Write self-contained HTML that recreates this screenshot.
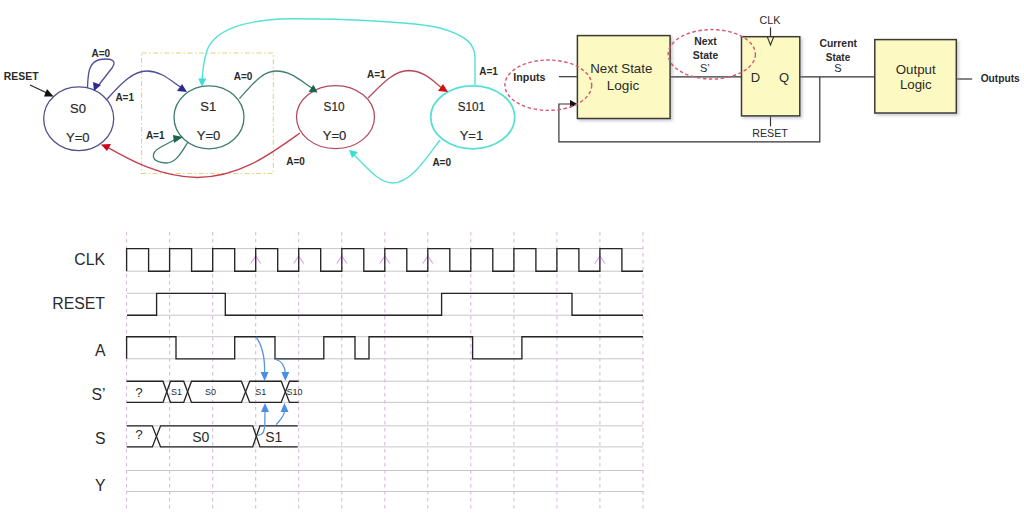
<!DOCTYPE html>
<html><head><meta charset="utf-8">
<style>
html,body{margin:0;padding:0;background:#fff;width:1024px;height:513px;overflow:hidden}
svg{display:block}
text{font-family:"Liberation Sans",sans-serif;fill:#2a2a2a}
.b{font-weight:bold}
</style></head><body>
<svg width="1024" height="513" viewBox="0 0 1024 513">
<rect width="1024" height="513" fill="#fff"/>

<!-- ============ STATE DIAGRAM ============ -->
<!-- dashed yellow box -->
<rect x="141.5" y="53" width="131.8" height="120.5" fill="none" stroke="#e8d27a" stroke-width="1.1" stroke-dasharray="5,2.5,1.5,2.5"/>

<!-- circles -->
<ellipse cx="78.7" cy="118.75" rx="35" ry="31.8" fill="none" stroke="#50508e" stroke-width="1.3"/>
<ellipse cx="209" cy="117.3" rx="35" ry="31.5" fill="none" stroke="#3d7c6e" stroke-width="1.3"/>
<ellipse cx="335.5" cy="117.1" rx="39" ry="31.5" fill="none" stroke="#b04a5a" stroke-width="1.25"/>
<ellipse cx="472.7" cy="117.3" rx="42" ry="31.5" fill="none" stroke="#58e0d4" stroke-width="1.8"/>

<!-- cyan big arc S101 -> S1 -->
<path d="M475,85 V58 C475,45 468,36 440,28 C415,22 340,18.5 290,18.8 C245,19.5 213,30 206.5,52 C204,61 202.5,70 202.3,79" fill="none" stroke="#55e2d6" stroke-width="1.4"/>
<polygon points="198.2,78.6 206.2,78.6 202.1,86.8" fill="#38e0d4"/>

<!-- S0 self loop -->
<path d="M87.5,88 C88,75 88,62 100,59.5 C110,58 118,60 112,68 L98,86" fill="none" stroke="#4e4e94" stroke-width="1.3"/>
<polygon points="94,91 93,82 101,85" fill="#2a2a90"/>

<!-- S0 -> S1 -->
<path d="M106.8,99.4 C120,85 132,71 147,71 C162,71 172,82 182,88" fill="none" stroke="#4e4e94" stroke-width="1.3"/>
<polygon points="187,92 177,91 182,84" fill="#2a2a90"/>

<!-- S1 self loop -->
<path d="M188,142 C181,153 176,163 166,163 C150,162 150,153 161,147 L176,139" fill="none" stroke="#3d7c6e" stroke-width="1.3"/>
<polygon points="183,137 174,143 173,135" fill="#1a6448"/>

<!-- S1 -> S10 -->
<path d="M239.4,98.6 C252,85 262,71 276,71 C292,71 302,82 312,88" fill="none" stroke="#3d7c6e" stroke-width="1.3"/>
<polygon points="317.6,92.6 308.6,91.8 313.4,84.8" fill="#1a6448"/>

<!-- S10 -> S101 -->
<path d="M368,98 C382,84 394,70.5 409,70.5 C425,71 434,82 442,88" fill="none" stroke="#b44a5a" stroke-width="1.3"/>
<polygon points="448,92 438,91 443,84" fill="#d01010"/>

<!-- S10 -> S0 red -->
<path d="M300,133 C272,153 240,177.5 197,177.5 C160,177 130,160 107,147" fill="none" stroke="#c44050" stroke-width="1.35"/>
<polygon points="101,144.5 111,144 107,151" fill="#c80818"/>

<!-- S101 -> S10 cyan -->
<path d="M440,140 C425,160 410,183 393,183 C378,183 365,165 354,155" fill="none" stroke="#55e2d6" stroke-width="1.4"/>
<polygon points="349,150 358,152 352,158" fill="#38e0d4"/>

<!-- RESET arrow -->
<path d="M30,85 L47,93" stroke="#222" stroke-width="1.3"/>
<polygon points="53.6,96.5 44,96.5 47,89" fill="#111"/>

<!-- state text -->
<g font-size="13" text-anchor="middle" stroke="#2a2a2a" stroke-width="0.2">
<text x="78" y="113">S0</text><text x="77.8" y="141.6">Y=0</text>
<text x="208.2" y="110.7">S1</text><text x="208.6" y="139.9">Y=0</text>
<text x="334.1" y="110.8" textLength="21" lengthAdjust="spacingAndGlyphs">S10</text><text x="334.5" y="139.9">Y=0</text>
<text x="471.4" y="110.8" textLength="27.3" lengthAdjust="spacingAndGlyphs">S101</text><text x="471.4" y="139.9">Y=1</text>
</g>
<g font-size="10" class="b" text-anchor="middle">
<text x="21.2" y="80" font-size="10.4">RESET</text>
<text x="100.8" y="56.6">A=0</text>
<text x="124.7" y="101.4">A=1</text>
<text x="243" y="80.4">A=0</text>
<text x="155.2" y="138.9">A=1</text>
<text x="295.6" y="164.6">A=0</text>
<text x="376.3" y="78">A=1</text>
<text x="488.6" y="75">A=1</text>
<text x="441.7" y="166.3">A=0</text>
</g>

<!-- ============ BLOCK DIAGRAM ============ -->
<g stroke="#333" stroke-width="1.2" fill="none">
<path d="M558.9,76.7 H577.4"/>
<path d="M571,104 H558.9 V141.9 H819.8 V76.8"/>
<path d="M670,76.8 H741.5"/>
<path d="M799.8,76.8 H875"/>
<path d="M956.3,79 H972.2"/>
<path d="M770.5,27.4 V36.7"/>
<path d="M770.5,116 V126.3"/>
</g>
<polygon points="577.4,104 570,100 570,108" fill="#111"/>
<!-- shadows -->
<defs><filter id="sh" x="-10%" y="-10%" width="130%" height="130%"><feDropShadow dx="1.8" dy="1.8" stdDeviation="1.4" flood-color="#8888a0" flood-opacity="0.45"/></filter></defs>
<!-- boxes -->
<rect x="577.4" y="35.6" width="92.7" height="82.9" fill="#fcfac2" stroke="#3a3a32" stroke-width="1.5" filter="url(#sh)"/>
<rect x="741.5" y="36.7" width="58.3" height="79.2" fill="#fcfac2" stroke="#3a3a32" stroke-width="1.5" filter="url(#sh)"/>
<rect x="874.8" y="39.6" width="81.5" height="73.4" fill="#fcfac2" stroke="#3a3a32" stroke-width="1.5" filter="url(#sh)"/>
<path d="M767.3,36.7 L770.5,45 L773.7,36.7" fill="none" stroke="#333" stroke-width="1.1"/>

<!-- red dashed ellipses -->
<ellipse cx="548.3" cy="85.2" rx="43.4" ry="25.2" fill="none" stroke="#d85a70" stroke-width="1.45" stroke-dasharray="3.5,2.5"/>
<ellipse cx="711.8" cy="54.3" rx="43.6" ry="24.7" fill="none" stroke="#d85a70" stroke-width="1.45" stroke-dasharray="3.5,2.5"/>

<g text-anchor="middle">
<text x="621.3" y="73.3" font-size="13.3">Next State</text>
<text x="623" y="89.8" font-size="13.3" textLength="32.5" lengthAdjust="spacingAndGlyphs">Logic</text>
<text x="915.7" y="74.5" font-size="13.3" dy="-1">Output</text>
<text x="915.8" y="89" font-size="13.3">Logic</text>
<text x="755.4" y="82.3" font-size="13">D</text>
<text x="784" y="82.3" font-size="13">Q</text>
<text x="770" y="23.8" font-size="10.7">CLK</text>
<text x="770" y="137.3" font-size="10.7">RESET</text>
<text x="529.4" y="81.2" font-size="10.7" class="b">Inputs</text>
<text x="705.5" y="45.2" font-size="10.4" class="b">Next</text>
<text x="705.5" y="58.5" font-size="10.4" class="b">State</text>
<text x="704.8" y="71.6" font-size="11">S’</text>
<text x="838.2" y="46.8" font-size="10.4" class="b">Current</text>
<text x="838" y="60.6" font-size="10" class="b">State</text>
<text x="838" y="72" font-size="11">S</text>
<text x="1000.2" y="81.6" font-size="10.2" class="b">Outputs</text>
</g>

<!-- ============ TIMING DIAGRAM ============ -->
<g stroke="#c6c6c6" stroke-width="1">
<line x1="127" y1="248.6" x2="643" y2="248.6"/><line x1="127" y1="271.2" x2="643" y2="271.2"/>
<line x1="127" y1="293.3" x2="643" y2="293.3"/><line x1="127" y1="315.2" x2="643" y2="315.2"/>
<line x1="127" y1="336.7" x2="643" y2="336.7"/><line x1="127" y1="358.8" x2="643" y2="358.8"/>
<line x1="127" y1="381.2" x2="643" y2="381.2"/><line x1="127" y1="402.4" x2="643" y2="402.4"/>
<line x1="127" y1="425.8" x2="643" y2="425.8"/><line x1="127" y1="446.9" x2="643" y2="446.9"/>
<line x1="127" y1="470.5" x2="643" y2="470.5"/><line x1="127" y1="491.5" x2="643" y2="491.5"/>
</g>
<g stroke="#dab6de" stroke-width="1.05" stroke-dasharray="3.5,3.5">
<line x1="126.6" y1="232" x2="126.6" y2="508.5"/>
<line x1="169.6" y1="232" x2="169.6" y2="508.5"/>
<line x1="212.7" y1="232" x2="212.7" y2="508.5"/>
<line x1="255.7" y1="232" x2="255.7" y2="508.5"/>
<line x1="298.7" y1="232" x2="298.7" y2="508.5"/>
<line x1="341.8" y1="232" x2="341.8" y2="508.5"/>
<line x1="384.8" y1="232" x2="384.8" y2="508.5"/>
<line x1="427.8" y1="232" x2="427.8" y2="508.5"/>
<line x1="470.8" y1="232" x2="470.8" y2="508.5"/>
<line x1="513.9" y1="232" x2="513.9" y2="508.5"/>
<line x1="556.9" y1="232" x2="556.9" y2="508.5"/>
<line x1="599.9" y1="232" x2="599.9" y2="508.5"/>
<line x1="643.0" y1="232" x2="643.0" y2="508.5"/>
</g>
<!-- pink edge arrows -->
<g stroke="#dca4ec" stroke-width="1.2" fill="none">
<path d="M250.7,263.5 L255.7,256 L260.7,263.5"/>
<path d="M293.7,263.5 L298.7,256 L303.7,263.5"/>
<path d="M336.8,263.5 L341.8,256 L346.8,263.5"/>
<path d="M379.8,263.5 L384.8,256 L389.8,263.5"/>
<path d="M422.8,263.5 L427.8,256 L432.8,263.5"/>
<path d="M594.9,263.5 L599.9,256 L604.9,263.5"/>
</g>
<g stroke="#252525" stroke-width="1.35" fill="none">
<path d="M126.6,271.2 V248.6 H148.6 V271.2 H169.6 V248.6 H191.6 V271.2 H212.7 V248.6 H234.7 V271.2 H255.7 V248.6 H277.7 V271.2 H298.7 V248.6 H320.7 V271.2 H341.8 V248.6 H363.8 V271.2 H384.8 V248.6 H406.8 V271.2 H427.8 V248.6 H449.8 V271.2 H470.8 V248.6 H492.8 V271.2 H513.9 V248.6 H535.9 V271.2 H556.9 V248.6 H578.9 V271.2 H599.9 V248.6 H621.9 V271.2 H643.0"/>
<path d="M127,315.2 H156.6 V293.3 H225.3 V315.2 H441.6 V293.3 H572 V315.2 H643"/>
<path d="M126.6,358.8 V336.7 H176 V358.8 H234.7 V336.7 H275 V358.8 H323.8 V336.7 H355 V358.8 H369 V336.7 H472.6 V358.8 H521.9 V336.7 H643"/>
<!-- S' bus -->
<path d="M126.6,381.2 H163 L170.5,402.4 H183.7 L191.5,381.2 H241.4 L249.7,402.4 H281.2 L289.5,381.2 H298.6"/>
<path d="M126.6,402.4 H163 L170.5,381.2 H183.7 L191.5,402.4 H241.4 L249.7,381.2 H281.2 L289.5,402.4 H298.6"/>
<!-- S bus -->
<path d="M126.6,425.8 H152.3 L160.6,446.9 H252.7 L260,425.8 H297.7"/>
<path d="M126.6,446.9 H152.3 L160.6,425.8 H252.7 L260,446.9 H297.7"/>
</g>

<g text-anchor="end" font-size="15.8">
<text x="105" y="265.2">CLK</text>
<text x="105" y="309">RESET</text>
<text x="105.5" y="356">A</text>
<text x="105.5" y="400.3">S’</text>
<text x="105.5" y="444.2">S</text>
<text x="105.5" y="491">Y</text>
</g>
<g text-anchor="middle">
<text x="139" y="397.2" font-size="13.5">?</text>
<text x="139" y="439.4" font-size="13.5">?</text>
<text x="176.6" y="394.8" font-size="9">S1</text>
<text x="210.5" y="395" font-size="9">S0</text>
<text x="260.7" y="395" font-size="9">S1</text>
<text x="294.6" y="395" font-size="9">S10</text>
<text x="200.7" y="441.5" font-size="14">S0</text>
<text x="273.7" y="441.5" font-size="14">S1</text>
</g>

<!-- blue arrows -->
<g stroke="#5a94dc" stroke-width="1.3" fill="none">
<path d="M256,337 C262,345 265,355 264.6,373"/>
<path d="M275,359 C281,361 285,366 285.3,373"/>
<path d="M257.2,435.4 C262,435 264,434 264.8,425 L265,411"/>
<path d="M276.2,424.7 C280,420 284.5,416 284.5,411"/>
</g>
<g fill="#4a8ee6">
<polygon points="260.6,372 268.6,372 264.6,381"/>
<polygon points="281.3,372 289.3,372 285.3,381"/>
<polygon points="261,412 269,412 265,403"/>
<polygon points="280.5,412 288.5,412 284.5,403"/>
</g>
</svg>
</body></html>
